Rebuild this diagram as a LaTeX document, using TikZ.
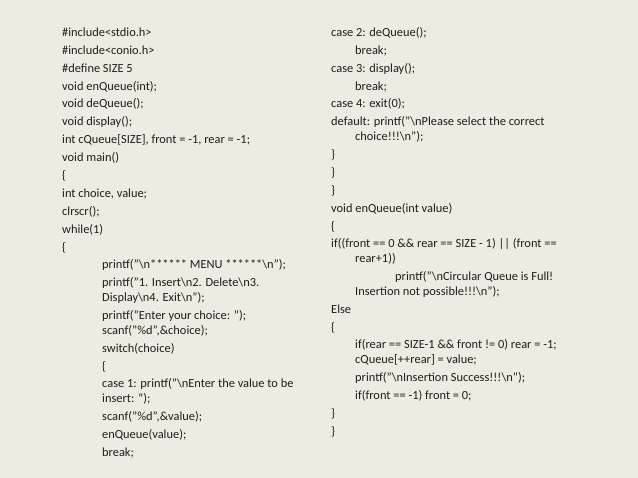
\documentclass[tikz,border=0pt]{standalone}
\usepackage{fontspec}
\setmainfont{Carlito}
\definecolor{bg}{HTML}{EEECE2}
\definecolor{tx}{HTML}{1E1E1E}
\begin{document}
\begin{tikzpicture}[x=1pt,y=-1pt,
  ln/.style={anchor=base west,inner sep=0pt,text=tx,font=\fontsize{12.4}{14}\selectfont}]
\fill[bg] (0,0) rectangle (638,478);
\useasboundingbox (0,0) rectangle (638,478);
\def\L#1#2#3#4{\node[ln] (#1) at (#2,#3+4.5) {#4};}
\L{a1}{62}{32}{\#include<stdio.h>}
\L{a2}{62}{50}{\#include<conio.h>}
\L{a3}{62}{68}{\#define SIZE 5}
\L{a4}{62}{86}{void enQueue(int);}
\L{a5}{62}{103}{void deQueue();}
\L{a6}{62}{121}{void display();}
\L{a7}{62}{139}{int cQueue[SIZE], front = -1, rear = -1;}
\L{a8}{62}{157}{void main()}
\L{a9}{62}{175}{\{}
\L{a10}{62}{193}{int choice, value;}
\L{a11}{62}{211}{clrscr();}
\L{a12}{62}{229}{while(1)}
\L{a13}{62}{247}{\{}
\L{a14}{102}{264}{printf("\textbackslash n****** MENU ******\textbackslash n");}
\L{a15}{102}{282}{printf("1. Insert\textbackslash n2. Delete\textbackslash n3.}
\L{a16}{102}{297}{Display\textbackslash n4. Exit\textbackslash n");}
\L{a17}{102}{315}{printf("Enter your choice: ");}
\L{a18}{102}{330}{scanf("\%d",\&choice);}
\L{a19}{102}{348}{switch(choice)}
\L{a20}{102}{366}{\{}
\L{a21}{102}{383}{case 1: printf("\textbackslash nEnter the value to be}
\L{a22}{102}{398}{insert: ");}
\L{a23}{102}{416}{scanf("\%d",\&value);}
\L{a24}{102}{434}{enQueue(value);}
\L{a25}{102}{452}{break;}
\L{b1}{331}{32}{case 2: deQueue();}
\L{b2}{355}{50}{break;}
\L{b3}{331}{68}{case 3: display();}
\L{b4}{355}{86}{break;}
\L{b5}{331}{103}{case 4: exit(0);}
\L{b6}{331}{121}{default: printf("\textbackslash nPlease select the correct}
\L{b7}{355}{136}{choice!!!\textbackslash n");}
\L{b8}{331}{154}{\}}
\L{b9}{331}{172}{\}}
\L{b10}{331}{190}{\}}
\L{b11}{331}{208}{void enQueue(int value)}
\L{b12}{331}{226}{\{}
\L{b13}{331}{243}{if((front == 0 \&\& rear == SIZE - 1) || (front ==}
\L{b14}{355}{258}{rear+1))}
\L{b15}{395}{276}{printf("\textbackslash nCircular Queue is Full!}
\L{b16}{355}{291}{Insertion not possible!!!\textbackslash n");}
\L{b17}{331}{309}{Else}
\L{b18}{331}{327}{\{}
\L{b19}{355}{344}{if(rear == SIZE-1 \&\& front != 0) rear = -1;}
\L{b20}{355}{359}{cQueue[++rear] = value;}
\L{b21}{355}{377}{printf("\textbackslash nInsertion Success!!!\textbackslash n");}
\L{b22}{355}{395}{if(front == -1) front = 0;}
\L{b23}{331}{413}{\}}
\L{b24}{331}{431}{\}}
\end{tikzpicture}
\end{document}
